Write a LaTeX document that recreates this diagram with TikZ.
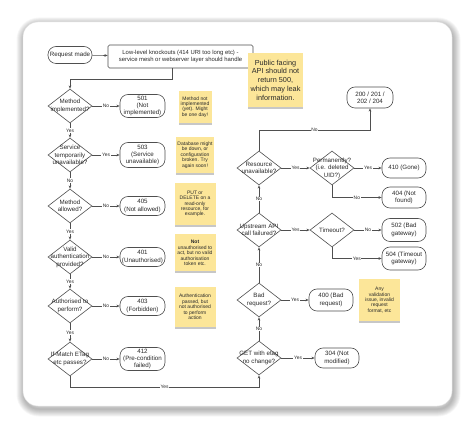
\documentclass[tikz,border=0pt]{standalone}
\usepackage{fontspec}
\setmainfont{Liberation Sans}
\usetikzlibrary{shapes.geometric,shadows,arrows.meta}
\definecolor{ln}{HTML}{4F4F4F}
\definecolor{tx}{HTML}{2A2A2A}
\definecolor{sticky}{HTML}{FCE699}
\begin{document}
\begin{tikzpicture}[x=1pt,y=-1pt,
  base/.style={font=\fontsize{6.2}{7.4}\selectfont, text=tx, align=center},
  term/.style={base, draw=ln, line width=0.6pt, rounded corners=8pt, inner sep=1pt, minimum width=44pt, minimum height=21pt},
  dia/.style={draw=ln, line width=0.6pt, shape=diamond, minimum width=44pt, minimum height=34pt, inner sep=0pt},
  dlab/.style={base, inner sep=0pt},
  note/.style={fill=sticky, font=\fontsize{5}{5.4}\selectfont, text=tx, align=center, inner sep=1pt,
    drop shadow={shadow xshift=0pt, shadow yshift=-1.6pt, opacity=0.22, fill=black}},
  lbl/.style={font=\fontsize{4.9}{5.4}\selectfont, fill=white, inner sep=0.6pt, text=tx},
  arr/.style={draw=ln, line width=0.6pt, -{Stealth[length=3.2pt,width=2.6pt]}}]
\useasboundingbox (0,0) rectangle (474,430);
% frame with soft shadow
\foreach \i in {1,...,10} \draw[line width=\i*1.5pt, draw=black, opacity=0.03, rounded corners=15pt] (24,25) rectangle (453,409);
\fill[white, rounded corners=15pt] (23,22) rectangle (452,406);
\draw[black!12, line width=0.4pt, rounded corners=15pt] (23,22) rectangle (452,406);

% left column
\node[term, minimum width=44pt, minimum height=17pt] (rm) at (70,55) {Request made};
\node[base, draw=ln, line width=0.6pt, rounded corners=1.5pt, minimum width=145pt, minimum height=23pt, inner sep=1pt, font=\fontsize{5.9}{7.2}\selectfont] (ll) at (180.5,56.5)
  {Low-level knockouts (414 URI too long etc) -\\service mesh or webserver layer should handle};

\node[dia, label={[dlab]center:{Method\\implemented?}}] (d1) at (70,106) {};
\node[term, minimum width=45pt, minimum height=23pt] (b501) at (142.5,106) {501\\(Not\\implemented)};
\node[note, minimum width=33pt, minimum height=32pt] (n1) at (195,107) {Method not\\implemented\\(yet).  Might\\be one day!};

\node[dia, label={[dlab]center:{Service\\temporarily\\unavailable?}}] (d2) at (70,155) {};
\node[term, minimum width=45pt, minimum height=25pt] (b503) at (142.5,155) {503\\(Service\\unavailable)};
\node[note, minimum width=35pt, minimum height=36pt] (n2) at (195,155) {Database might\\be down, or\\configuration\\broken.  Try\\again soon!};

\node[dia, label={[dlab]center:{Method\\allowed?}}] (d3) at (70,206) {};
\node[term, minimum width=45pt, minimum height=19pt] (b405) at (142.5,206) {405\\(Not allowed)};
\node[note, minimum width=41pt, minimum height=42pt] (n3) at (195,204) {PUT or\\DELETE on a\\read-only\\resource, for\\example.};

\node[dia, label={[dlab]center:{Valid\\authentication\\provided?}}] (d4) at (70,257) {};
\node[term, minimum width=45pt, minimum height=19pt] (b401) at (142.5,257) {401\\(Unauthorised)};
\node[note, minimum width=41pt, minimum height=37pt] (n4) at (195,253) {\textbf{Not}\\unauthorised to\\act, but no valid\\authorisation\\token etc.};

\node[dia, label={[dlab]center:{Authorised to\\perform?}}] (d5) at (70,306) {};
\node[term, minimum width=45pt, minimum height=19pt] (b403) at (142.5,306) {403\\(Forbidden)};
\node[note, minimum width=41pt, minimum height=40pt] (n5) at (195,307) {Authentication\\passed, but\\not authorised\\to perform\\action};

\node[dia, label={[dlab]center:{If-Match ETag\\etc passes?}}] (d6) at (70,359) {};
\node[term, minimum width=45pt, minimum height=23pt] (b412) at (142.5,359) {412\\(Pre-condition\\failed)};

% right column
\node[term, minimum width=46pt, minimum height=21pt] (b200) at (370,97.5) {200 / 201 /\\202 / 204};
\node[note, minimum width=55pt, minimum height=54pt, font=\fontsize{7.3}{8.7}\selectfont] (pub) at (275.5,80) {Public facing\\API should not\\return 500,\\which may leak\\information.};

\node[dia, label={[dlab]center:{Resource\\unavailable?}}] (d11) at (259,168) {};
\node[dia, label={[dlab]center:{Permanently?\\(i.e. deleted\\UID?)}}] (d12) at (332,168) {};
\node[term, minimum width=44pt, minimum height=20pt] (b410) at (404,168) {410 (Gone)};
\node[term, minimum width=44pt, minimum height=21pt] (b404) at (404,197.5) {404 (Not\\found)};

\node[dia, label={[dlab]center:{Upstream API\\call failured?}}] (d9) at (259,230) {};
\node[dia, label={[dlab]center:{Timeout?}}] (d10) at (332,230) {};
\node[term, minimum width=44pt, minimum height=23pt] (b502) at (404,230) {502 (Bad\\gateway)};
\node[term, minimum width=44pt, minimum height=23pt] (b504) at (404,258.5) {504 (Timeout\\gateway)};

\node[dia, label={[dlab]center:{Bad\\request?}}] (d8) at (259,300) {};
\node[term, minimum width=44pt, minimum height=22pt] (b400) at (331,300) {400 (Bad\\request)};
\node[note, minimum width=41pt, minimum height=42pt] (n6) at (379.5,300) {Any\\validation\\issue, invalid\\request\\format, etc};

\node[dia, label={[dlab]center:{GET with etag\\no change?}}] (d7) at (259,358) {};
\node[term, minimum width=44pt, minimum height=20pt] (b304) at (337,358) {304 (Not\\modified)};

% connectors
\draw[arr] (rm) -- (ll);
\draw[arr] ([xshift=-8.5pt]ll.south) -- ([xshift=-8.5pt]ll.south |- 0,79) -| (d1.north);
\draw[arr] (d1) -- node[lbl]{No} (b501);
\draw[arr] (d1) -- node[lbl]{Yes} (d2);
\draw[arr] (d2) -- node[lbl]{Yes} (b503);
\draw[arr] (d2) -- node[lbl]{No} (d3);
\draw[arr] (d3) -- node[lbl]{No} (b405);
\draw[arr] (d3) -- node[lbl]{Yes} (d4);
\draw[arr] (d4) -- node[lbl]{No} (b401);
\draw[arr] (d4) -- node[lbl]{Yes} (d5);
\draw[arr] (d5) -- node[lbl]{No} (b403);
\draw[arr] (d5) -- node[lbl]{Yes} (d6);
\draw[arr] (d6) -- node[lbl]{No} (b412);
\draw[arr] (d6.south) -- (d6.south |- 0,387) -| node[lbl, pos=0.25]{Yes} (d7.south);
\draw[arr] (d7) -- node[lbl]{Yes} (b304);
\draw[arr] (d7) -- node[lbl]{No} (d8);
\draw[arr] (d8) -- node[lbl]{Yes} (b400);
\draw[arr] (d8) -- node[lbl]{No} (d9);
\draw[arr] (d9) -- node[lbl]{Yes} (d10);
\draw[arr] (d10) -- node[lbl]{No} (b502);
\draw[arr] (d10.south) |- node[lbl, pos=0.75]{Yes} (b504.west);
\draw[arr] (d9) -- node[lbl]{No} (d11);
\draw[arr] (d11) -- node[lbl]{Yes} (d12);
\draw[arr] (d12) -- node[lbl]{Yes} (b410);
\draw[arr] (d12.south) |- node[lbl, pos=0.75]{No} (b404.west);
\draw[arr] (d11.north) -- (d11.north |- 0,130) -| node[lbl, pos=0.25]{No} (b200.south);
\end{tikzpicture}
\end{document}
